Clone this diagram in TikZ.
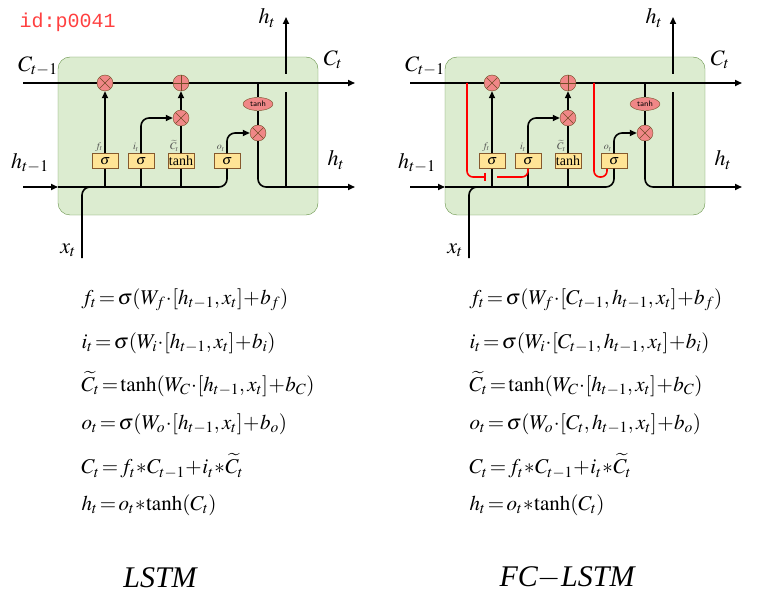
\documentclass[tikz,border=0pt]{standalone}
\usepackage{mathptmx}
\usepackage[no-math]{fontspec}
\setmainfont{Liberation Serif}
\newfontfamily\monofont{Liberation Mono}
\usetikzlibrary{arrows.meta,shapes.geometric}
\definecolor{cellgreen}{RGB}{220,236,208}
\definecolor{celledge}{RGB}{100,145,70}
\definecolor{gatefill}{RGB}{255,228,150}
\definecolor{opfill}{RGB}{240,135,135}
\tikzset{
  arr/.style={-{Triangle[length=7pt,width=6pt]}},
  wire/.style={line width=1.6pt},
  peep/.style={red,line width=1.6pt,rounded corners=6pt},
  gate/.style={draw=brown!70!black,fill=gatefill,minimum width=26pt,minimum height=15pt,inner sep=0pt,font=\fontsize{14}{14}\selectfont},
  op/.style={circle,draw=brown!60!black,fill=opfill,minimum size=16pt,inner sep=0pt},
  mul/.style={op,path picture={\draw([shift={(-5.6pt,5.6pt)}]path picture bounding box.center)--([shift={(5.6pt,-5.6pt)}]path picture bounding box.center);
    \draw([shift={(-5.6pt,-5.6pt)}]path picture bounding box.center)--([shift={(5.6pt,5.6pt)}]path picture bounding box.center);}},
  plus/.style={op,path picture={\draw([xshift=-8pt]path picture bounding box.center)--([xshift=8pt]path picture bounding box.center);
    \draw([yshift=-8pt]path picture bounding box.center)--([yshift=8pt]path picture bounding box.center);}},
  lbl/.style={font=\fontsize{22}{22}\selectfont},
  glbl/.style={font=\fontsize{10}{10}\selectfont,text=black!70,inner sep=1pt,anchor=south east},
  eq/.style={anchor=west,font=\fontsize{21}{21}\selectfont},
}
\begin{document}
\begin{tikzpicture}[x=1pt,y=-1pt]
\useasboundingbox (0,0) rectangle (757,604);
\node[text=red!75,anchor=west,font=\monofont\fontsize{20}{20}\selectfont] (id) at (16,22) {id:p0041};
\foreach \dx/\n in {0/a,387/b} {
  \begin{scope}[xshift=\dx]
  % cell body
  \draw[celledge,fill=cellgreen,rounded corners=12pt] (58,57) rectangle (318,215);
  \coordinate (cin\n) at (23,83);
  \coordinate (cout\n) at (355,83);
  \coordinate (hin\n) at (23,187);
  \coordinate (hbox\n) at (58,187);
  \coordinate (hout\n) at (355,187);
  \coordinate (xt\n) at (82,258);
  \coordinate (up\n) at (286,17);
  \draw[wire,arr] (cin\n) -- (cout\n);
  \draw[wire,arr] (hin\n) -- (hbox\n);
  % gates and operators
  \node[gate] (f\n) at (105,161) {$\sigma$};
  \node[gate] (i\n) at (141,161) {$\sigma$};
  \node[gate] (g\n) at (181,161) {tanh};
  \node[gate] (o\n) at (227,161) {$\sigma$};
  \node[mul] (mf\n) at (105,83) {};
  \node[plus] (add\n) at (181,83) {};
  \node[mul] (mi\n) at (181,118) {};
  \node[mul] (mo\n) at (258,133) {};
  \node[ellipse,draw=brown!60!black,fill=opfill,minimum width=30pt,minimum height=13pt,inner sep=0pt,font=\sffamily\fontsize{8}{8}\selectfont] (th\n) at (258,104) {tanh};
  \node[glbl] at ([xshift=-1pt,yshift=1pt]f\n.north) {$f_t$};
  \node[glbl] at ([xshift=-1pt,yshift=1pt]i\n.north) {$i_t$};
  \node[glbl] at ([xshift=-1pt,yshift=1pt]g\n.north) {$\widetilde{C}_t$};
  \node[glbl] at ([xshift=-1pt,yshift=1pt]o\n.north) {$o_t$};
  % wires
  \draw[wire,rounded corners=8pt] (hbox\n) -| (o\n.south);
  \draw[wire,rounded corners=8pt] (xt\n) |- (f\n.south |- hin\n);
  \foreach \g in {f,i,g} \draw[wire] (\g\n.south) -- (\g\n.south |- hin\n);
  \draw[wire,arr] (f\n) -- (mf\n);
  \draw[wire,arr,rounded corners=8pt] (i\n.north) |- (mi\n.west);
  \draw[wire] (g\n) -- (mi\n);
  \draw[wire,arr] (mi\n) -- (add\n);
  \draw[wire,arr,rounded corners=8pt] (o\n.north) |- (mo\n.west);
  \draw[wire] (th\n.north) -- (th\n.north |- cin\n);
  \draw[wire] (th\n) -- (mo\n);
  \draw[wire,arr,rounded corners=8pt] (mo\n.south) |- (hout\n);
  \draw[wire] (286,187) -- (286,92);
  \draw[wire,arr] (286,74) -- (up\n);
  % labels
  \node[lbl] at (38,66) {$C_{t-1}$};
  \node[lbl] at (30,163) {$h_{t-1}$};
  \node[lbl] at (333,60) {$C_t$};
  \node[lbl] at (336,160) {$h_t$};
  \node[lbl] at (267,18) {$h_t$};
  \node[lbl] at (68,250) {$x_t$};
  \end{scope}
}
% peepholes
\draw[peep,-{Bar[width=8pt]}] (467,83) |- (486,177);
\draw[peep] (497,177) -| (ib.south);
\draw[peep] (594,83) |- (607,177) -- (607,169);
% equations
\node[eq] (eqfa) at (78,300) {$f_t\!=\!\sigma(W_f\!\cdot\![h_{t-1},x_t]\!+\!b_f)$};
\node[eq] (eqia) at (78,343) {$i_t\!=\!\sigma(W_i\!\cdot\![h_{t-1},x_t]\!+\!b_i)$};
\node[eq] (eqca) at (78,384) {$\widetilde{C}_t\!=\!\mathrm{tanh}(W_C\!\cdot\![h_{t-1},x_t]\!+\!b_C)$};
\node[eq] (eqoa) at (78,424) {$o_t\!=\!\sigma(W_o\!\cdot\![h_{t-1},x_t]\!+\!b_o)$};
\node[eq] (equa) at (78,466) {$C_t\!=\!f_t\!*\!C_{t-1}\!+\!i_t\!*\!\widetilde{C}_t$};
\node[eq] (eqha) at (78,505) {$h_t\!=\!o_t\!*\!\mathrm{tanh}(C_t)$};
\node[eq] (eqfb) at (466,300) {$f_t\!=\!\sigma(W_f\!\cdot\![C_{t-1},h_{t-1},x_t]\!+\!b_f)$};
\node[eq] (eqib) at (466,343) {$i_t\!=\!\sigma(W_i\!\cdot\![C_{t-1},h_{t-1},x_t]\!+\!b_i)$};
\node[eq] (eqcb) at (466,384) {$\widetilde{C}_t\!=\!\mathrm{tanh}(W_C\!\cdot\![h_{t-1},x_t]\!+\!b_C)$};
\node[eq] (eqob) at (466,424) {$o_t\!=\!\sigma(W_o\!\cdot\![C_t,h_{t-1},x_t]\!+\!b_o)$};
\node[eq] (equb) at (466,466) {$C_t\!=\!f_t\!*\!C_{t-1}\!+\!i_t\!*\!\widetilde{C}_t$};
\node[eq] (eqhb) at (466,505) {$h_t\!=\!o_t\!*\!\mathrm{tanh}(C_t)$};
% titles
\node[font=\itshape\fontsize{30}{30}\selectfont] (ta) at (160,578) {LSTM};
\node[font=\itshape\fontsize{30}{30}\selectfont] (tb) at (567,578) {FC$-$LSTM};
\end{tikzpicture}
\end{document}
